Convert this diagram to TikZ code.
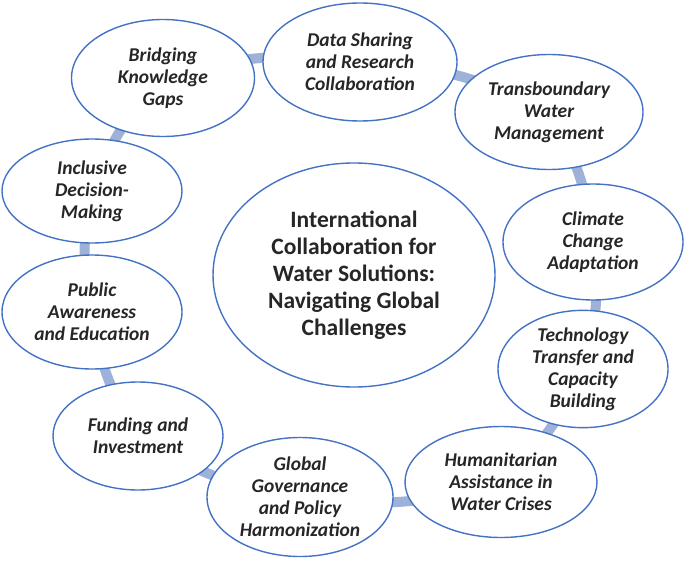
\documentclass[tikz,border=0pt]{standalone}
\usepackage{fontspec}
\setmainfont{Carlito}
\definecolor{ringblue}{RGB}{68,114,196}
\definecolor{linkblue}{RGB}{158,177,216}
\usepackage{tikz}
\usetikzlibrary{shapes.geometric, backgrounds}

\begin{document}
\begin{tikzpicture}[
  x=1pt, y=-1pt,
  topic/.style={ellipse, draw=ringblue, line width=1.4pt, fill=white, inner sep=0pt, align=center,
    font=\fontsize{19.5}{22}\selectfont\bfseries\itshape, text=black!85},
  hub/.style={ellipse, draw=ringblue, line width=1.4pt, fill=white, inner sep=0pt, align=center,
    minimum width=282pt, minimum height=224pt, font=\fontsize{23.5}{27}\selectfont\bfseries, text=black!85},
  link/.style={line width=10pt, linkblue}
]
  \useasboundingbox (0,0) rectangle (685,564);
  \node[hub] (hub) at (354,275) {International\\Collaboration for\\Water Solutions:\\Navigating Global\\Challenges};
  \node[topic, minimum width=183pt, minimum height=117pt] (b1) at (163,78) {Bridging\\Knowledge\\Gaps};
  \node[topic, minimum width=194pt, minimum height=118pt] (b2) at (360,62) {Data Sharing\\and Research\\Collaboration};
  \node[topic, minimum width=188pt, minimum height=115pt] (b3) at (549,112) {Transboundary\\Water\\Management};
  \node[topic, minimum width=180pt, minimum height=116pt] (b4) at (593,242) {Climate\\Change\\Adaptation};
  \node[topic, minimum width=170pt, minimum height=108pt] (b5) at (583,369) {Technology\\Transfer and\\Capacity\\Building};
  \node[topic, minimum width=192pt, minimum height=111pt] (b6) at (501,482) {Humanitarian\\Assistance in\\Water Crises};
  \node[topic, minimum width=186pt, minimum height=119pt] (b7) at (300,497) {Global\\Governance\\and Policy\\Harmonization};
  \node[topic, minimum width=170pt, minimum height=108pt] (b8) at (138,436) {Funding and\\Investment};
  \node[topic, minimum width=180pt, minimum height=114pt] (b9) at (92,312) {Public\\Awareness\\and Education};
  \node[topic, minimum width=180pt, minimum height=104pt] (b10) at (92,191) {Inclusive\\Decision-\\Making};

  % ring behind the topics
  \begin{pgfonlayer}{background}
    \foreach \a/\b in {b1/b2, b2/b3, b3/b4, b4/b5, b5/b6, b6/b7, b7/b8, b8/b9, b9/b10, b10/b1}
      \draw[link] (\a.center) to[bend left=12] (\b.center);
  \end{pgfonlayer}
\end{tikzpicture}
\end{document}
